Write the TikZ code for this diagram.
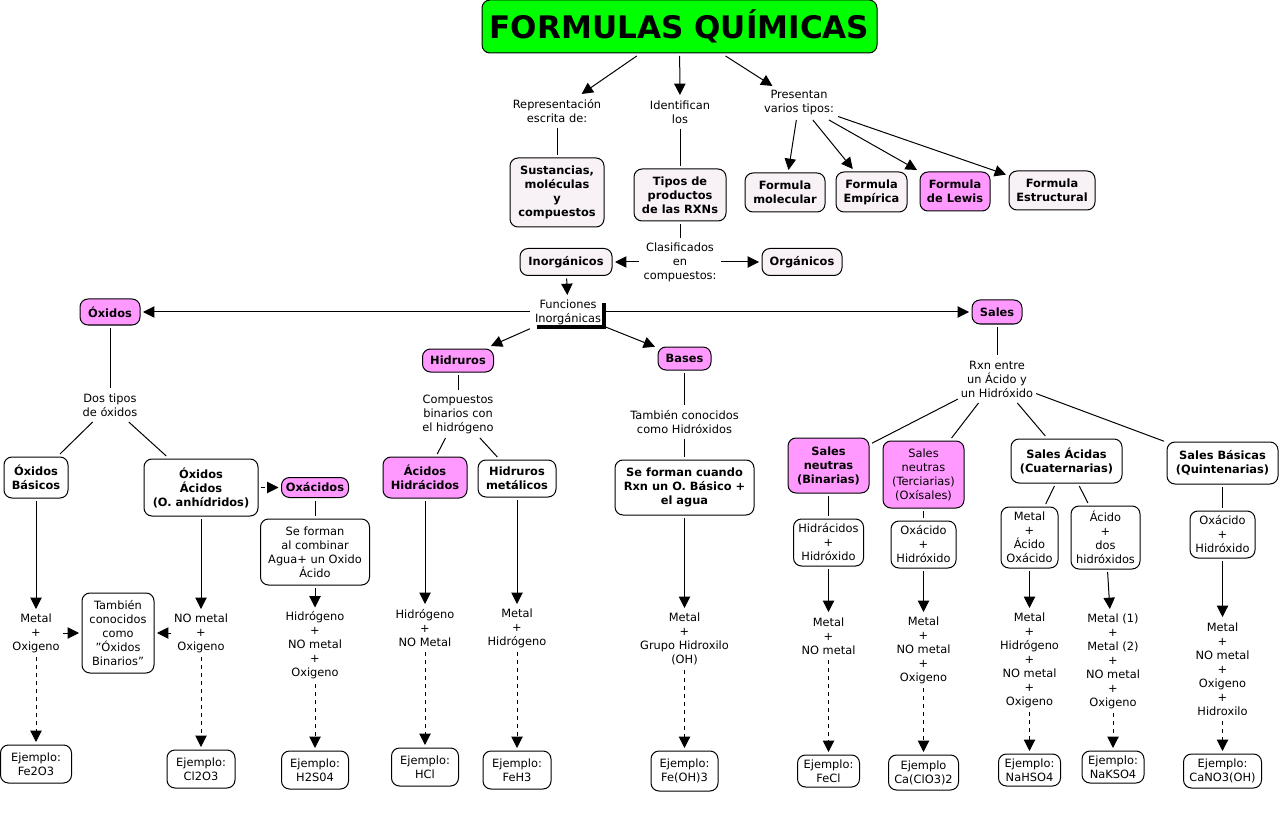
\documentclass[tikz,border=0pt]{standalone}
\usepackage{fontspec}
\setmainfont{DejaVu Sans}
\usetikzlibrary{arrows.meta}
\newcommand{\fs}{\fontsize{8.55pt}{10.5pt}\selectfont}
\tikzset{
  sz/.style 2 args={minimum width=#1*0.75pt,minimum height=#2*0.75pt},
  base/.style={inner sep=0pt,outer sep=2.25pt,align=center,font=\fs},
  tx/.style={base},
  cbox/.style={base,draw=black,line width=0.75pt,rounded corners=6pt,fill=white},
  soft/.style={cbox,fill=softc,font=\fs\bfseries},
  pink/.style={cbox,fill=pinkc,font=\fs\bfseries},
  wb/.style={cbox,font=\fs\bfseries},
  plain/.style={draw=black,line width=0.75pt},
  arr/.style={plain,-{Triangle[length=8.5pt,width=8.5pt]}},
  darr/.style={arr,dash pattern=on 3pt off 3pt},
}
\definecolor{softc}{HTML}{F8F1F6}
\definecolor{pinkc}{HTML}{FF99FF}
\definecolor{titlec}{HTML}{00FF00}
\begin{document}
\begin{tikzpicture}[x=0.75pt,y=-0.75pt]
\useasboundingbox (0,0) rectangle (1280,816);
% top
\node[cbox,fill=titlec,sz={395}{53},font=\fontsize{23.3pt}{28pt}\selectfont\bfseries] (title) at (679.5,26.5) {FORMULAS QUÍMICAS};
\node[tx,sz={90}{28}] (rep) at (557,111) {Representación\\escrita de:};
\node[tx,sz={62}{28}] (ident) at (680,112) {Identifican\\los};
\node[tx,sz={72}{28}] (pres) at (799,103) {Presentan\\varios tipos:};
\node[soft,sz={94}{69}] (sust) at (557,192.5) {Sustancias,\\moléculas\\y\\compuestos};
\node[soft,sz={92}{52}] (tipos) at (680,195) {Tipos de\\productos\\de las RXNs};
\node[soft,sz={80}{39}] (fmol) at (785,192.5) {Formula\\molecular};
\node[soft,sz={71}{40}] (femp) at (871.5,192) {Formula\\Empírica};
\node[pink,sz={70}{39}] (flew) at (955,191.5) {Formula\\de Lewis};
\node[soft,sz={86}{39}] (fest) at (1052,190.5) {Formula\\Estructural};
\node[tx,sz={76}{42}] (clas) at (680,262) {Clasificados\\en\\compuestos:};
\node[soft,sz={92}{27}] (inorg) at (566,262) {Inorgánicos};
\node[soft,sz={80}{27}] (org) at (802,262) {Orgánicos};
\node[tx,sz={70}{28}] (func) at (568,312) {Funciones\\Inorgánicas};
\draw[line width=3pt] (604,303) -- (604,327) -- (537,327);
% oxidos
\node[pink,sz={60}{26}] (oxi) at (110,312) {Óxidos};
\node[tx,sz={56}{28}] (dos) at (110,405) {Dos tipos\\de óxidos};
\node[wb,sz={64}{41}] (obas) at (36,477.5) {Óxidos\\Básicos};
\node[wb,sz={114}{57}] (oaci) at (201,487.5) {Óxidos\\Ácidos\\(O. anhídridos)};
\node[pink,sz={67}{20}] (oxa) at (315,487.5) {Oxácidos};
\node[cbox,sz={109}{66}] (sef) at (315,552) {Se forman\\al combinar\\Agua+ un Oxido\\Ácido};
\node[tx,sz={48}{42}] (m1) at (36,633) {Metal\\+\\Oxigeno};
\node[cbox,sz={72}{80}] (tamb) at (118,633) {También\\conocidos\\como\\\char34 Óxidos\\Binarios\char34};
\node[tx,sz={54}{42}] (m2) at (201,633) {NO metal\\+\\Oxigeno};
\node[tx,sz={60}{70}] (m3) at (315,645.5) {Hidrógeno\\+\\NO metal\\+\\Oxigeno};
\node[cbox,sz={71}{38}] (e1) at (36,764) {Ejemplo:\\Fe2O3};
\node[cbox,sz={68}{38}] (e2) at (201,769) {Ejemplo:\\Cl2O3};
\node[cbox,sz={67}{38}] (e3) at (315,770) {Ejemplo:\\H2S04};
% hidruros, bases
\node[pink,sz={71}{23}] (hid) at (458,360.5) {Hidruros};
\node[pink,sz={53}{23}] (bas) at (684.5,358.5) {Bases};
\node[tx,sz={72}{42}] (comp) at (458,414) {Compuestos\\binarios con\\el hidrógeno};
\node[tx,sz={112}{28}] (tcon) at (684.5,422) {También conocidos\\como Hidróxidos};
\node[pink,sz={84}{41}] (ahid) at (425,477.5) {Ácidos\\Hidrácidos};
\node[wb,sz={78}{37}] (hmet) at (517,478.5) {Hidruros\\metálicos};
\node[wb,sz={139}{55}] (secu) at (684.5,487.5) {Se forman cuando\\Rxn un O. Básico +\\el agua};
\node[tx,sz={58}{42}] (m4) at (425,628) {Hidrógeno\\+\\NO Metal};
\node[tx,sz={58}{42}] (m5) at (517,628) {Metal\\+\\Hidrógeno};
\node[tx,sz={90}{56}] (m6) at (684.5,639) {Metal\\+\\Grupo Hidroxilo\\(OH)};
\node[cbox,sz={67}{38}] (e4) at (425,767) {Ejemplo:\\HCl};
\node[cbox,sz={68}{38}] (e5) at (517,770) {Ejemplo:\\FeH3};
\node[cbox,sz={67}{40}] (e6) at (684.5,771) {Ejemplo:\\Fe(OH)3};
% sales
\node[pink,sz={50}{24}] (sal) at (997,312) {Sales};
\node[tx,sz={72}{42}] (rxn) at (997,379) {Rxn entre\\un Ácido y\\un Hidróxido};
\node[pink,sz={81}{55}] (sbin) at (828.5,465.5) {Sales\\neutras\\(Binarias)};
\node[cbox,fill=pinkc,sz={81}{67}] (ster) at (923.5,474.5) {Sales\\neutras\\(Terciarias)\\(Oxísales)};
\node[wb,sz={111}{44}] (saci) at (1066.5,461) {Sales Ácidas\\(Cuaternarias)};
\node[wb,sz={111}{42}] (sbas) at (1222.5,463) {Sales Básicas\\(Quintenarias)};
\node[cbox,sz={70}{47}] (r1) at (828.5,542.5) {Hidrácidos\\+\\Hidróxido};
\node[cbox,sz={65}{47}] (r2) at (923.5,544.5) {Oxácido\\+\\Hidróxido};
\node[cbox,sz={57}{61}] (r3) at (1029.5,537.5) {Metal\\+\\Ácido\\Oxácido};
\node[cbox,sz={69}{63}] (r4) at (1105.5,537.5) {Ácido\\+\\dos\\hidróxidos};
\node[cbox,sz={65}{47}] (r5) at (1222.5,534.5) {Oxácido\\+\\Hidróxido};
\node[tx,sz={54}{42}] (m7) at (828.5,636) {Metal\\+\\NO metal};
\node[tx,sz={54}{70}] (m8) at (923.5,650) {Metal\\+\\NO metal\\+\\Oxigeno};
\node[tx,sz={58}{98}] (m9) at (1029.5,660) {Metal\\+\\Hidrógeno\\+\\NO metal\\+\\Oxigeno};
\node[tx,sz={54}{98}] (m10) at (1113,661) {Metal (1)\\+\\Metal (2)\\+\\NO metal\\+\\Oxigeno};
\node[tx,sz={54}{98}] (m11) at (1222.5,669) {Metal\\+\\NO metal\\+\\Oxigeno\\+\\Hidroxilo};
\node[cbox,sz={62}{32}] (e7) at (828.5,771) {Ejemplo:\\FeCl};
\node[cbox,sz={70}{35}] (e8) at (923.5,772.5) {Ejemplo\\Ca(ClO3)2};
\node[cbox,sz={62}{32}] (e9) at (1029.5,770) {Ejemplo:\\NaHSO4};
\node[cbox,sz={62}{32}] (e10) at (1113,767) {Ejemplo:\\NaKSO4};
\node[cbox,sz={78}{34}] (e11) at (1222.5,771) {Ejemplo:\\CaNO3(OH)};
% connectors
\draw[arr] (title) -- (rep);
\draw[arr] (title) -- (ident);
\draw[arr] (title) -- (pres);
\draw[plain] (rep) -- (sust);
\draw[plain] (ident) -- (tipos);
\draw[arr] (pres) -- (fmol);
\draw[arr] (pres) -- (femp);
\draw[arr] (pres) -- (flew);
\draw[arr] (pres) -- (fest);
\draw[plain] (tipos) -- (clas);
\draw[arr] (clas) -- (inorg);
\draw[arr] (clas) -- (org);
\draw[arr] (inorg) -- (func);
\draw[arr] (func) -- (oxi);
\draw[arr] (func) -- (hid);
\draw[arr] (func) -- (bas);
\draw[arr] (func) -- (sal);
\draw[plain] (oxi) -- (dos);
\draw[plain] (dos) -- (obas);
\draw[plain] (dos) -- (oaci);
\draw[darr] (oaci) -- (oxa);
\draw[plain] (oxa) -- (sef);
\draw[arr] (obas) -- (m1);
\draw[arr] (oaci) -- (m2);
\draw[arr] (sef) -- (m3);
\draw[arr] (m1) -- (tamb);
\draw[arr] (m2) -- (tamb);
\draw[darr] (m1) -- (e1);
\draw[darr] (m2) -- (e2);
\draw[darr] (m3) -- (e3);
\draw[plain] (hid) -- (comp);
\draw[plain] (comp) -- (ahid);
\draw[plain] (comp) -- (hmet);
\draw[plain] (bas) -- (tcon);
\draw[plain] (tcon) -- (secu);
\draw[arr] (ahid) -- (m4);
\draw[arr] (hmet) -- (m5);
\draw[arr] (secu) -- (m6);
\draw[darr] (m4) -- (e4);
\draw[darr] (m5) -- (e5);
\draw[darr] (m6) -- (e6);
\draw[plain] (sal) -- (rxn);
\draw[plain] (rxn) -- (sbin);
\draw[plain] (rxn) -- (ster);
\draw[plain] (rxn) -- (saci);
\draw[plain] (rxn) -- (sbas);
\draw[plain] (sbin) -- (r1);
\draw[plain] (ster) -- (r2);
\draw[plain] (saci) -- (r3);
\draw[plain] (saci) -- (r4);
\draw[plain] (sbas) -- (r5);
\draw[arr] (r1) -- (m7);
\draw[arr] (r2) -- (m8);
\draw[arr] (r3) -- (m9);
\draw[arr] (r4) -- (m10);
\draw[arr] (r5) -- (m11);
\draw[darr] (m7) -- (e7);
\draw[darr] (m8) -- (e8);
\draw[darr] (m9) -- (e9);
\draw[darr] (m10) -- (e10);
\draw[darr] (m11) -- (e11);
\end{tikzpicture}
\end{document}
